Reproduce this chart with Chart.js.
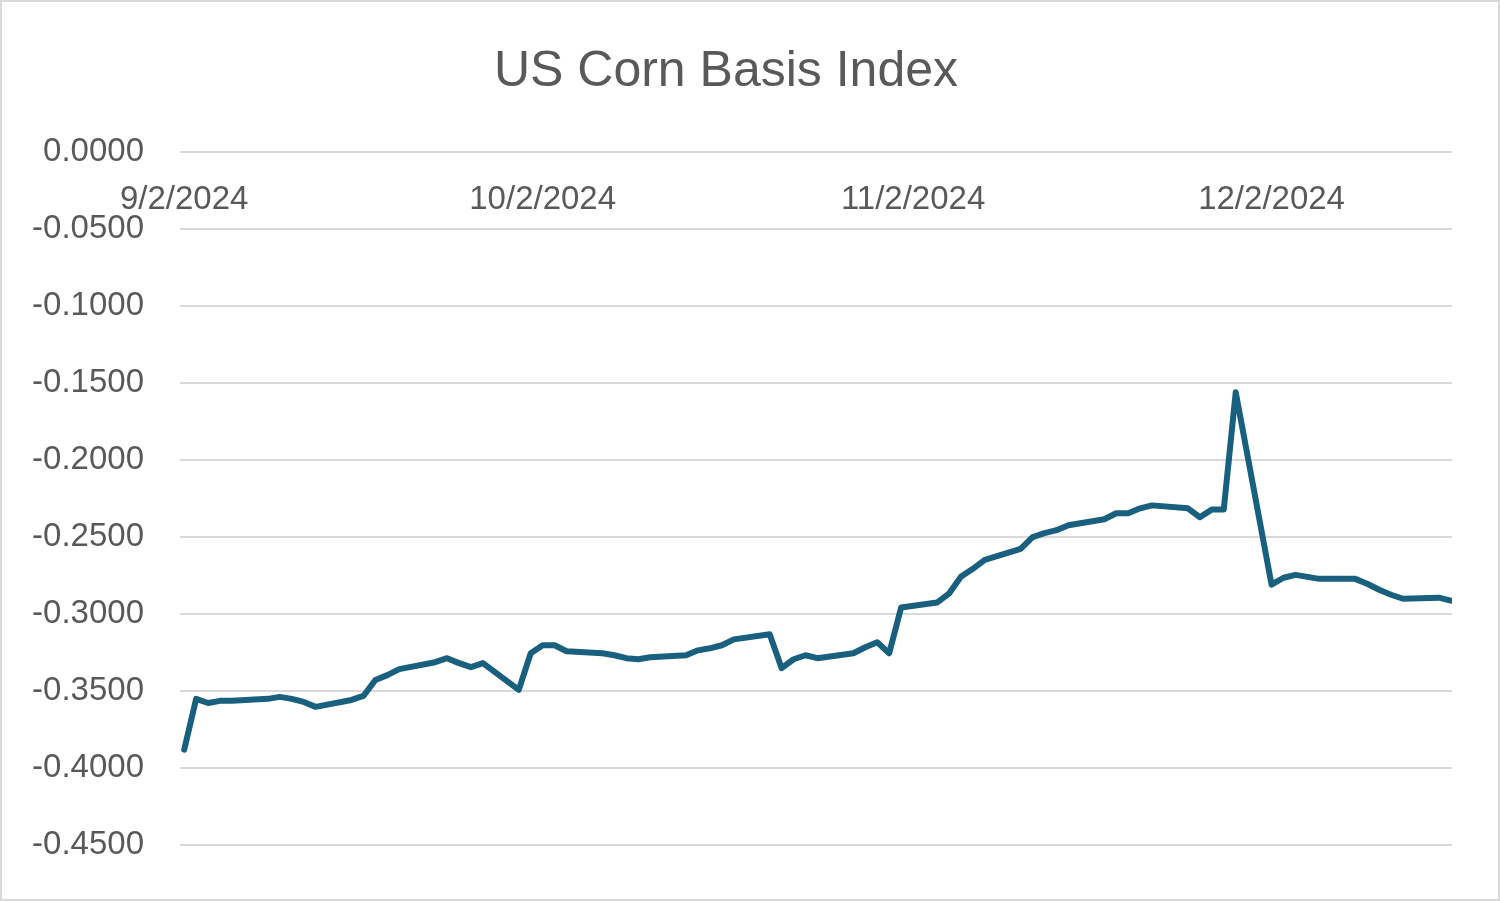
<!DOCTYPE html>
<html>
<head>
<meta charset="utf-8">
<script src="https://cdn.jsdelivr.net/npm/chart.js@4"></script>
<style>
  html, body { margin: 0; padding: 0; background: #fff; }
  canvas { display: block; }
</style>
</head>
<body>
<canvas id="chart" width="1500" height="901"></canvas>
<script>
const dates = [
  '2024-09-02','2024-09-03','2024-09-04','2024-09-05','2024-09-06',
  '2024-09-09','2024-09-10','2024-09-11','2024-09-12','2024-09-13',
  '2024-09-16','2024-09-17','2024-09-18','2024-09-19','2024-09-20',
  '2024-09-23','2024-09-24','2024-09-25','2024-09-26','2024-09-27',
  '2024-09-30','2024-10-01','2024-10-02','2024-10-03','2024-10-04',
  '2024-10-07','2024-10-08','2024-10-09','2024-10-10','2024-10-11',
  '2024-10-14','2024-10-15','2024-10-16','2024-10-17','2024-10-18',
  '2024-10-21','2024-10-22','2024-10-23','2024-10-24','2024-10-25',
  '2024-10-28','2024-10-29','2024-10-30','2024-10-31','2024-11-01',
  '2024-11-04','2024-11-05','2024-11-06','2024-11-07','2024-11-08',
  '2024-11-11','2024-11-12','2024-11-13','2024-11-14','2024-11-15',
  '2024-11-18','2024-11-19','2024-11-20','2024-11-21','2024-11-22',
  '2024-11-25','2024-11-26','2024-11-27','2024-11-28','2024-11-29',
  '2024-12-02','2024-12-03','2024-12-04','2024-12-05','2024-12-06',
  '2024-12-09','2024-12-10','2024-12-11','2024-12-12','2024-12-13',
  '2024-12-16','2024-12-17'
];
const basis = [
  -0.3880,-0.3550,-0.3577,-0.3563,-0.3563,
  -0.3550,-0.3537,-0.3550,-0.3570,-0.3602,
  -0.3557,-0.3531,-0.3428,-0.3396,-0.3357,
  -0.3312,-0.3286,-0.3318,-0.3344,-0.3318,
  -0.3492,-0.3254,-0.3202,-0.3202,-0.3241,
  -0.3254,-0.3267,-0.3286,-0.3293,-0.3280,
  -0.3267,-0.3235,-0.3222,-0.3202,-0.3164,
  -0.3131,-0.3351,-0.3293,-0.3267,-0.3286,
  -0.3254,-0.3215,-0.3183,-0.3254,-0.2957,
  -0.2925,-0.2867,-0.2758,-0.2706,-0.2648,
  -0.2577,-0.2500,-0.2474,-0.2455,-0.2423,
  -0.2384,-0.2345,-0.2345,-0.2313,-0.2294,
  -0.2313,-0.2371,-0.2320,-0.2320,-0.1560,
  -0.2809,-0.2764,-0.2745,-0.2758,-0.2771,
  -0.2771,-0.2803,-0.2842,-0.2874,-0.2900,
  -0.2893,-0.2912
];
const xTickDays = [0, 30, 61, 91];
const xTickLabels = ['9/2/2024', '10/2/2024', '11/2/2024', '12/2/2024'];

const DAY = 86400000;
const start = Date.parse(dates[0]);
const points = dates.map((d, i) => ({ x: Math.round((Date.parse(d) - start) / DAY), y: basis[i] }));

const textColor = '#595959';
const gridColor = '#d9d9d9';

const frame = {
  id: 'frame',
  beforeDraw(chart) {
    const c = chart.ctx;
    c.save();
    c.fillStyle = '#fff';
    c.fillRect(0, 0, chart.width, chart.height);
    c.strokeStyle = gridColor;
    c.lineWidth = 2;
    c.strokeRect(1, 1, chart.width - 2, chart.height - 2);
    c.restore();
  }
};

new Chart(document.getElementById('chart'), {
  type: 'line',
  data: {
    datasets: [{
      data: points,
      borderColor: '#195f7e',
      borderWidth: 6,
      pointRadius: 0,
      tension: 0,
      borderJoinStyle: 'round',
      borderCapStyle: 'round'
    }]
  },
  options: {
    responsive: false,
    animation: false,
    devicePixelRatio: 1,
    layout: { padding: { left: 0, right: 48, top: 0, bottom: 26 } },
    scales: {
      x: {
        type: 'linear',
        position: { y: 0 },
        min: -0.35,
        max: 106.1,
        afterBuildTicks: (axis) => { axis.ticks = xTickDays.map(v => ({ value: v })); },
        ticks: {
          color: textColor,
          font: { family: 'Liberation Sans', size: 33 },
          maxRotation: 0,
          autoSkip: false,
          padding: 20,
          callback: (v) => xTickLabels[xTickDays.indexOf(v)]
        },
        grid: { display: false },
        border: { display: false }
      },
      y: {
        min: -0.45,
        max: 0,
        afterFit: (axis) => { axis.width = 180; },
        ticks: {
          stepSize: 0.05,
          color: textColor,
          font: { family: 'Liberation Sans', size: 33 },
          padding: 36,
          callback: (v) => (Math.abs(v) < 1e-9 ? 0 : v).toFixed(4)
        },
        grid: { color: gridColor, lineWidth: 2, drawTicks: false },
        border: { display: false }
      }
    },
    plugins: {
      legend: { display: false },
      tooltip: { enabled: false },
      title: {
        display: true,
        text: 'US Corn Basis Index',
        color: textColor,
        font: { family: 'Liberation Sans', size: 50, weight: 'normal' },
        padding: { top: 42, bottom: 50 }
      }
    }
  },
  plugins: [frame]
});
</script>
</body>
</html>
